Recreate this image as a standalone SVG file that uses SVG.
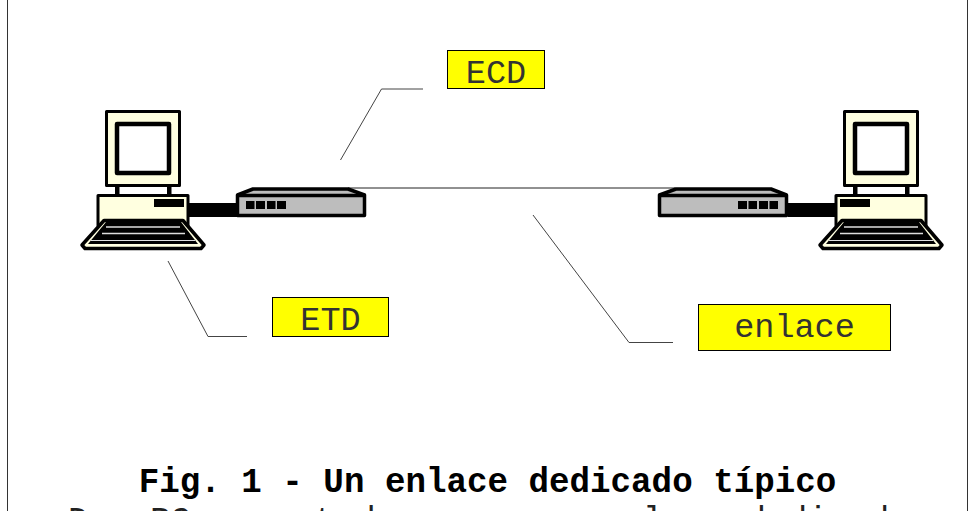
<svg xmlns="http://www.w3.org/2000/svg" width="975" height="511" viewBox="0 0 975 511">
<style>
.k{stroke:#000;stroke-linejoin:round}
.cream{fill:#ffffe0}
.scr{fill:#fff}
.blk{fill:#000}
.gray{fill:#bdbdbd}
.lead{fill:none;stroke:#444;stroke-width:1}
.box{fill:#ffff00;stroke:#000;stroke-width:1}
.lbl{font-family:"Liberation Mono",monospace;font-size:33.5px;fill:#333;text-anchor:middle}
.ttl{font-family:"Liberation Mono",monospace;font-size:34.2px;font-weight:bold;fill:#000;text-anchor:middle}
.sub{font-family:"Liberation Mono",monospace;font-size:34.2px;fill:#222}
</style>
<defs>
<g id="pc">
<rect class="k cream" x="106.500" y="111.500" width="73" height="74" stroke-width="3"/>
<rect class="k scr" x="117" y="124" width="52" height="49" stroke-width="4.500"/>
<rect class="blk" x="115" y="186" width="4.500" height="9"/>
<rect class="blk" x="167" y="186" width="4.500" height="9"/>
<rect class="k cream" x="98" y="195.500" width="90" height="30" stroke-width="3"/>
<path class="k cream" d="M104 220.500H183L204 245L201 248.500H85L82 245Z" stroke-width="3.500"/>
<path class="blk" d="M106 222H181L198 244H88Z"/>
<path d="M106 227H180M102 233.500H185" stroke="#ddd" stroke-width="1.500" fill="none"/>
<path d="M91 240.500H195" stroke="#ddd" stroke-width="1" fill="none"/>
</g>
<g id="modem">
<path class="k gray" d="M237.500 195L253 189H348L364.500 195V215.500H237.500Z" stroke-width="3.500"/>
<path d="M237 195.500H365" stroke="#000" stroke-width="3.500" fill="none"/>
<rect class="blk" x="246" y="201" width="8.500" height="8"/>
<rect class="blk" x="256" y="201" width="9" height="8"/>
<rect class="blk" x="267" y="201" width="8.500" height="8"/>
<rect class="blk" x="277" y="201" width="9" height="8"/>
</g>
</defs>
<rect width="975" height="511" fill="#fff"/>
<g id="connectors">
<path d="M7.500 0V511M967.500 0V511" stroke="#333" stroke-width="1" fill="none"/>
<path d="M348 188H675" stroke="#222" stroke-width="1" fill="none"/>
<path class="lead" d="M340.500 160L381.500 89H423"/>
<path class="lead" d="M168 261L208 336.500H247"/>
<path class="lead" d="M533 215L629 342.500H673"/>
<rect class="blk" x="189" y="203" width="48" height="14"/>
<rect class="blk" x="788" y="203" width="47" height="14"/>
</g>
<g id="pc-left"><use href="#pc"/><rect class="blk" x="154" y="199" width="30" height="8"/></g>
<g id="modem-left"><use href="#modem"/></g>
<g id="pc-right"><use href="#pc" transform="translate(738 0)"/><rect class="blk" x="840" y="199" width="30" height="8"/></g>
<g id="modem-right"><use href="#modem" transform="translate(1024 0) scale(-1 1)"/></g>
<g id="ecd"><rect class="box" x="447.500" y="50.500" width="97" height="38"/><text class="lbl" x="496" y="83">ECD</text></g>
<g id="etd"><rect class="box" x="272.500" y="297.500" width="116" height="39"/><text class="lbl" x="330.500" y="330">ETD</text></g>
<g id="enlace"><rect class="box" x="698.500" y="304.500" width="192" height="46"/><text class="lbl" x="794.500" y="337">enlace</text></g>
<text class="ttl" x="487.500" y="492">Fig. 1 - Un enlace dedicado típico</text>
<text class="sub" x="68" y="531">Dos PC conectados por un</text>
<text class="sub" x="602" y="531">enlace dedicado</text>
</svg>
